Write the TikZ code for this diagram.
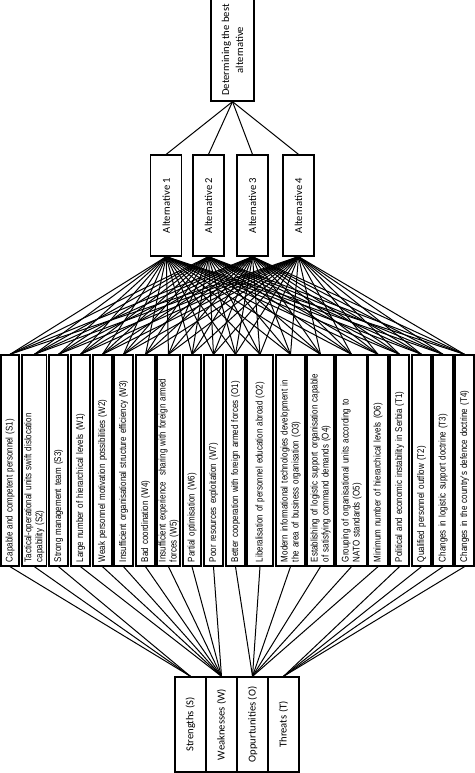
\documentclass[tikz,border=0pt]{standalone}
\usepackage{fontspec}
\newfontfamily\narrowfont{Liberation Sans}[FakeStretch=0.82]
\newfontfamily\calfont{Carlito}

\begin{document}
\begin{tikzpicture}[x=1pt, y=-1pt,
	box/.style={draw, line width=1.3pt, rotate=90, inner sep=1pt},
	factor/.style={box, minimum width=211pt, text width=203pt, inner xsep=4pt, align=left, font=\narrowfont\fontsize{9.7}{11}\selectfont},
	alt/.style={box, align=center, font=\calfont\fontsize{10.6}{14}\selectfont},
	link/.style={line width=1pt}]
	\useasboundingbox (0, 0) rectangle (474, 773);
	% goal and alternatives
	\node[alt, minimum width=102pt, minimum height=43pt] (goal) at (232.5, 50) {Determining the best\\alternative};
	\node[alt, minimum width=101pt, minimum height=31pt] (a1) at (166.2, 205.5) {Alternative 1};
	\node[alt, minimum width=101pt, minimum height=31pt] (a2) at (208.5, 205.5) {Alternative 2};
	\node[alt, minimum width=101pt, minimum height=31pt] (a3) at (252.5, 205.5) {Alternative 3};
	\node[alt, minimum width=101pt, minimum height=31pt] (a4) at (298.5, 205.5) {Alternative 4};
	% SWOT factors
	\node[factor, minimum height=18pt] (f1) at (10, 460.5) {Capable and competent personnel (S1)};
	\node[factor, minimum height=24.7pt] (f2) at (34.35, 460.5) {Tactical-operational units swift dislocation\\capability (S2)};
	\node[factor, minimum height=19pt] (f3) at (58.5, 460.5) {Strong management team (S3)};
	\node[factor, minimum height=19pt] (f4) at (80.5, 460.5) {Large number of hierarchical levels (W1)};
	\node[factor, minimum height=19pt] (f5) at (102.5, 460.5) {Weak personnel motivation possibilities (W2)};
	\node[factor, minimum height=19pt] (f6) at (123.5, 460.5) {Insufficient organisational structure efficiency (W3)};
	\node[factor, minimum height=19pt] (f7) at (145.5, 460.5) {Bad coordination (W4)};
	\node[factor, minimum height=23pt] (f8) at (168.5, 460.5) {Insufficient experience~ sharing with foreign armed\\forces (W5)};
	\node[factor, minimum height=18pt] (f9) at (192, 460.5) {Partial optimisation (W6)};
	\node[factor, minimum height=19pt] (f10) at (213.5, 460.5) {Poor resources exploitation (W7)};
	\node[factor, minimum height=19pt] (f11) at (235.5, 460.5) {Better cooperation with foreign armed forces (O1)};
	\node[factor, minimum height=26pt] (f12) at (260, 460.5) {Liberalisation of personnel education abroad (O2)};
	\node[factor, minimum height=29pt] (f13) at (290.5, 460.5) {Modern informational technologies development in\\the area of business organisation (O3)};
	\node[factor, minimum height=27pt] (f14) at (320.5, 460.5) {Establishing of logistic support organisation capable\\of satisfying command demands (O4)};
	\node[factor, minimum height=31pt] (f15) at (351.5, 460.5) {Grouping of organisational units according to\\NATO standards (O5)};
	\node[factor, minimum height=20pt] (f16) at (378, 460.5) {Minimum number of hierarchical levels (O6)};
	\node[factor, minimum height=19pt] (f17) at (399.5, 460.5) {Political and economic instability in Serbia (T1)};
	\node[factor, minimum height=19pt] (f18) at (421.5, 460.5) {Qualified personnel outflow (T2)};
	\node[factor, minimum height=20pt] (f19) at (443, 460.5) {Changes in logistic support doctrine (T3)};
	\node[factor, minimum height=19pt] (f20) at (464.5, 460.5) {Changes in the country's defence doctrine (T4)};
	% SWOT groups
	\node[alt, minimum width=95pt, minimum height=31pt] (s) at (190.5, 724.5) {Strengths (S)};
	\node[alt, minimum width=95pt, minimum height=31pt] (w) at (221.5, 724.5) {Weaknesses (W)};
	\node[alt, minimum width=95pt, minimum height=31pt] (o) at (252.5, 724.5) {Oppurtunities (O)};
	\node[alt, minimum width=95pt, minimum height=31pt] (t) at (283.5, 724.5) {Threats (T)};
	% links
	\foreach \a in {1,...,4} {
		\draw[link] (goal.west) -- (a\a.east);
		\foreach \f in {1,...,20}
			\draw[link] (a\a.west) -- (f\f.east);
	}
	\foreach \f in {1,...,3} \draw[link] (f\f.west) -- (s.east);
	\foreach \f in {4,...,10} \draw[link] (f\f.west) -- (w.east);
	\foreach \f in {11,...,16} \draw[link] (f\f.west) -- (o.east);
	\foreach \f in {17,...,20} \draw[link] (f\f.west) -- (t.east);
\end{tikzpicture}
\end{document}
